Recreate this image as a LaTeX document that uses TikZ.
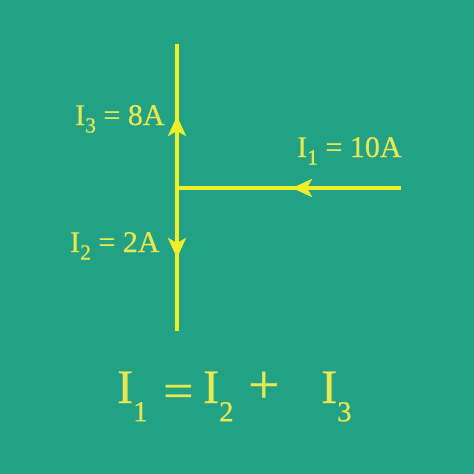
\documentclass[tikz,border=0pt]{standalone}
\usepackage{fontspec}
\setmainfont{Liberation Serif}
\newfontfamily\heavyserif[FakeBold=0.6]{Liberation Serif}
\usetikzlibrary{arrows.meta}
\definecolor{bg}{RGB}{34,161,133}
\definecolor{wire}{RGB}{240,238,40}
\definecolor{txt}{RGB}{232,232,80}
\newcommand\lsub[1]{\raisebox{-0.25em}{\scalebox{0.72}{#1}}}
\newcommand\esub[1]{\raisebox{-0.38em}{\scalebox{0.6}{#1}}}
\begin{document}
\begin{tikzpicture}[x=1pt,y=-1pt,
 wireline/.style={draw=wire,line width=4.5pt},
 tipline/.style={draw=wire,line width=4.5pt,-{Stealth[length=20pt,width=18pt,inset=5pt]}},
 lbl/.style={text=txt,font=\heavyserif\fontsize{30}{31}\selectfont,inner sep=0pt,anchor=base west},
 eq/.style={text=txt,font=\heavyserif\fontsize{48}{49}\selectfont,inner sep=0pt,anchor=base west}]
\fill[bg] (0,0) rectangle (474,474);
\useasboundingbox (0,0) rectangle (474,474);
% wires
\coordinate (top) at (177,44);
\coordinate (bot) at (177,331);
\coordinate (J) at (177,188);
\coordinate (R) at (401,188);
\draw[wireline] (top) -- (bot);
\draw[wireline] (R) -- (J);
% arrowheads
\coordinate (a3b) at (177,138);
\coordinate (a3t) at (177,116);
\coordinate (a2b) at (177,236);
\coordinate (a2t) at (177,258);
\coordinate (a1b) at (314,188);
\coordinate (a1t) at (292,188);
\draw[tipline] (a3b) -- (a3t);
\draw[tipline] (a2b) -- (a2t);
\draw[tipline] (a1b) -- (a1t);
% labels
\node[lbl] (l3) at (75,125) {I\lsub{3} = 8A};
\node[lbl] (l2) at (70,252) {I\lsub{2} = 2A};
\node[lbl] (l1) at (297,157) {I\lsub{1} = 10A};
% equation
\node[eq] (e1) at (117,403) {I\esub{1}};
\node[eq] (eqs) at (163,403) {\raisebox{-0.08em}{\scalebox{1.12}[1]{=}}};
\node[eq] (e2) at (203,403) {I\esub{2}};
\node[eq] (plus) at (248,403) {\scalebox{1.15}{+}};
\node[eq] (e3) at (321,403) {I\esub{3}};
\end{tikzpicture}
\end{document}
